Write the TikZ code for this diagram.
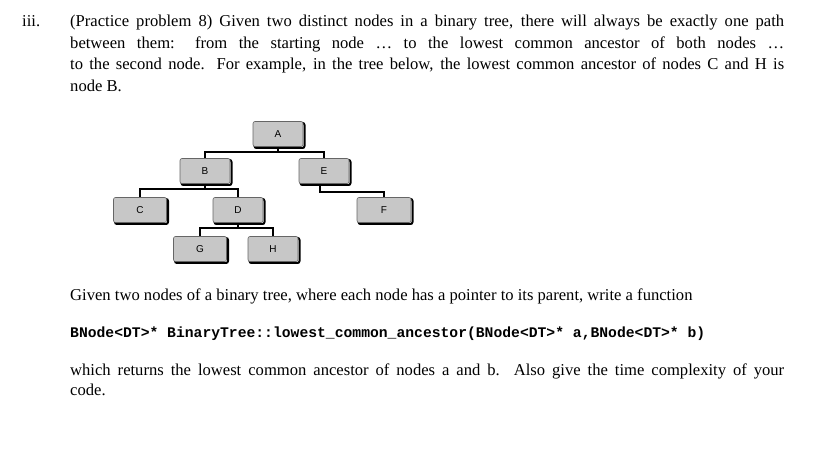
\documentclass[tikz,border=0pt]{standalone}
\usepackage{fontspec}
\setmainfont{Liberation Serif}
\newfontfamily\boxfont{Liberation Sans}
\newfontfamily\codefont{Liberation Mono}
\begin{document}
\begin{tikzpicture}[x=1pt,y=-1pt,
  para/.style={inner sep=0pt,anchor=base west,text width=714pt,align=justify,font=\fontsize{16.6}{21.5}\selectfont},
  tbox/.style={draw=black!60,line width=0.6pt,fill=black!22,rounded corners=2pt,minimum width=50pt,minimum height=25pt,font=\boxfont\fontsize{10}{11}\selectfont,
    preaction={draw=black,line width=2pt,rounded corners=2pt,transform canvas={shift={(1.5pt,-1.5pt)}}}},
  link/.style={line width=1.8pt}]
\useasboundingbox (0,0) rectangle (817,462);
\node[inner sep=0pt,anchor=base west,font=\fontsize{16.6}{21.5}\selectfont] (num) at (22,27) {iii.};
\node[para] (p1) at (70,27) {(Practice problem 8) Given two distinct nodes in a binary tree, there will always be exactly one path\linebreak between them: from the starting node \dots\ to the lowest common ancestor of both nodes \dots\linebreak to the second node. For example, in the tree below, the lowest common ancestor of nodes C and H is\linebreak node B.};
\node[tbox] (A) at (278,134) {A};
\node[tbox] (B) at (205,171) {B};
\node[tbox] (E) at (324,171) {E};
\node[tbox,minimum width=53pt] (C) at (140,210) {C};
\node[tbox] (D) at (238,210) {D};
\node[tbox,minimum width=54pt] (F) at (384,210) {F};
\node[tbox,minimum width=53pt] (G) at (200,249) {G};
\node[tbox] (H) at (273,249) {H};
\begin{scope}[on background layer/.try]
\draw[link] (A.south) -- ++(0,5) -| (B.north);
\draw[link] (A.south) ++(0,5) -| (E.north);
\draw[link] (B.south) -- ++(0,5) -| (C.north);
\draw[link] (B.south) ++(0,5) -| (D.north);
\draw[link] (D.south) -- ++(0,5) -| (G.north);
\draw[link] (D.south) ++(0,5) -| (H.north);
\draw[link] ([xshift=-4pt]E.south) -- ++(0,8) -| (F.north);
\end{scope}
\node[inner sep=0pt,anchor=base west,font=\fontsize{16.6}{20}\selectfont] (q) at (70,301) {Given two nodes of a binary tree, where each node has a pointer to its parent, write a function};
\node[inner sep=0pt,anchor=base west,font=\codefont\bfseries\fontsize{14.7}{20}\selectfont] (code) at (70,338) {BNode<DT>* BinaryTree::lowest\_common\_ancestor(BNode<DT>* a,BNode<DT>* b)};
\node[para,font=\fontsize{16.6}{20}\selectfont] (p2) at (70,376) {which returns the lowest common ancestor of nodes a and b. Also give the time complexity of your\linebreak code.};
\end{tikzpicture}
\end{document}
